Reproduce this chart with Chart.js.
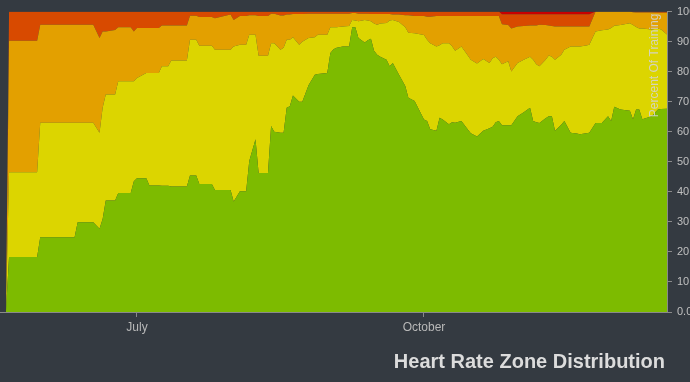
<!DOCTYPE html>
<html>
<head>
<meta charset="utf-8">
<script src="https://cdn.jsdelivr.net/npm/chart.js@4.4.1/dist/chart.umd.min.js"></script>
<style>
  html, body { margin: 0; padding: 0; background: #343a41; }
  #zones { display: block; }
</style>
</head>
<body>
<canvas id="zones" width="690" height="382"></canvas>
<script>
// one entry per sample, day of the activity window
var dates = [
  '2023-05-20','2023-05-21','2023-05-30','2023-05-31','2023-06-11','2023-06-12','2023-06-17','2023-06-19','2023-06-20','2023-06-21',
  '2023-06-24','2023-06-25','2023-06-29','2023-06-30','2023-07-01','2023-07-04','2023-07-05','2023-07-08','2023-07-09','2023-07-11',
  '2023-07-12','2023-07-17','2023-07-18','2023-07-20','2023-07-21','2023-07-25','2023-07-26','2023-07-31','2023-08-01','2023-08-03',
  '2023-08-05','2023-08-06','2023-08-08','2023-08-09','2023-08-12','2023-08-13','2023-08-14','2023-08-16','2023-08-17','2023-08-18',
  '2023-08-19','2023-08-20','2023-08-22','2023-08-23','2023-08-25','2023-08-27','2023-08-28','2023-08-31','2023-09-01','2023-09-02',
  '2023-09-03','2023-09-05','2023-09-07','2023-09-08','2023-09-09','2023-09-10','2023-09-12','2023-09-13','2023-09-14','2023-09-15',
  '2023-09-16','2023-09-17','2023-09-19','2023-09-20','2023-09-21','2023-09-23','2023-09-25','2023-09-26','2023-09-28','2023-10-01',
  '2023-10-02','2023-10-03','2023-10-05','2023-10-06','2023-10-07','2023-10-09','2023-10-10','2023-10-11','2023-10-13','2023-10-15',
  '2023-10-16','2023-10-18','2023-10-20','2023-10-22','2023-10-23','2023-10-24','2023-10-25','2023-10-26','2023-10-28','2023-10-29',
  '2023-10-31','2023-11-02','2023-11-04','2023-11-05','2023-11-06','2023-11-07','2023-11-09','2023-11-10','2023-11-11','2023-11-12',
  '2023-11-14','2023-11-15','2023-11-17','2023-11-19','2023-11-20','2023-11-22','2023-11-23','2023-11-25','2023-11-27','2023-11-29',
  '2023-11-30','2023-12-01','2023-12-03','2023-12-06','2023-12-07','2023-12-08','2023-12-09','2023-12-10','2023-12-13','2023-12-15',
  '2023-12-16','2023-12-18'
];

// percent of training time in each zone
var zone1 = [
  0, 18.3, 18.3, 24.9, 24.9, 29.9, 29.9, 27.7, 31, 37.1,
  37.1, 39.6, 39.6, 43.5, 44.5, 44.5, 42.1, 42.1, 42, 42,
  41.8, 41.8, 45.4, 45.4, 42.6, 42.6, 40.6, 40.6, 36.8, 40.2,
  40.2, 50.3, 57.5, 46.3, 46.3, 61.9, 60, 59.7, 59.7, 68,
  68.5, 72.1, 70, 70, 75.5, 79, 79.2, 79.6, 86.2, 87.5,
  88, 88.4, 88.4, 94.8, 94.8, 91.2, 89.7, 90.5, 91, 87,
  85.6, 85, 84, 81.8, 82.9, 79, 75.2, 71.3, 70.2, 64.1,
  63.6, 60.8, 60.3, 64.7, 64.1, 62.5, 63.2, 63, 63.6, 60.8,
  59.5, 58.4, 60.3, 61.2, 61.7, 63.2, 63.6, 62.2, 62.2, 62.2,
  65.2, 66.5, 68, 63.6, 63.2, 62.9, 64.5, 65.2, 65.2, 60.3,
  62.3, 63.6, 59.7, 59.4, 59.2, 59.5, 59.7, 62.9, 62.9, 65.2,
  63.6, 68.3, 67.4, 67, 64.2, 67.4, 67.4, 64.2, 65.2, 67.4,
  67.6, 67.7
];
var zone2 = [
  0, 28.2, 28.2, 38.1, 38.1, 33.1, 33.1, 32.0, 37, 35.3,
  35.3, 37.2, 37.2, 33.3, 33.4, 35.1, 37.5, 37.5, 39.8, 39.8,
  41.9, 41.9, 45.2, 45.2, 46.0, 46.0, 46.7, 46.7, 51.6, 48.8,
  48.8, 42.0, 34.8, 39.0, 39.0, 27.6, 29.5, 27.6, 28.3, 22.6,
  22.1, 19.4, 19, 20, 15.7, 12.5, 13.1, 12.7, 8.6, 7.3,
  6.8, 6.6, 6.8, 2.4, 2.2, 5.6, 7.5, 6.5, 5.8, 9,
  10, 11, 12.2, 15.2, 14.3, 17.5, 19.6, 21.7, 22.6, 28.1,
  27.0, 28.7, 28.1, 24.1, 25.4, 27.0, 25.3, 24, 24.8, 24.7,
  24.5, 24.3, 23.9, 21.7, 22.8, 21.8, 20.4, 20.3, 21.3, 17.9,
  17.7, 17.5, 17, 20.4, 19.3, 18.9, 19.5, 20.2, 19.8, 23.7,
  23.3, 23.7, 28.7, 29.0, 29.2, 29.2, 29.3, 30.5, 30.9, 28.8,
  30.9, 27.0, 28.1, 29.1, 31.3, 27.5, 27.0, 30.2, 28.8, 27.0,
  26.4, 24.6
];
var zone3 = [
  0, 43.8, 43.8, 32.6, 32.6, 32.6, 32.6, 31.5, 25.4, 21.0,
  21.5, 18.0, 18.0, 16.6, 16.6, 14.9, 14.9, 14.9, 13.6, 13.6,
  11.7, 11.7, 8.0, 8.0, 9.6, 9.6, 10.5, 11.7, 8.8, 9.5,
  9.5, 6.5, 6.5, 13.2, 13.2, 9.8, 9.8, 11.4, 10.7, 8.4,
  8.4, 7.7, 10.2, 9.2, 8.1, 7.8, 7.0, 7.0, 4.5, 4.5,
  4.5, 4.3, 4.1, 2.3, 2.5, 2.5, 2.1, 2.3, 2.4, 3.2,
  3.6, 3.2, 3.0, 2.2, 1.8, 2.5, 4.0, 5.8, 5.7, 6.3,
  7.7, 8.8, 10.1, 9.7, 9.0, 9.0, 10.0, 11.5, 10.1, 13.0,
  14.5, 15.8, 14.3, 15.6, 14.0, 13.5, 14.5, 13.3, 12.0, 14.3,
  12.1, 11.2, 10.4, 11.4, 12.9, 13.8, 11.5, 10.0, 10.2, 11.0,
  9.4, 7.7, 6.6, 6.6, 6.6, 6.3, 6.0, 6.6, 6.2, 6.0,
  5.5, 4.7, 4.5, 3.9, 4.3, 4.8, 5.3, 5.3, 5.7, 5.2,
  5.6, 7.3
];
var zone4 = [
  0, 9.7, 9.7, 4.4, 4.4, 4.4, 4.4, 8.8, 6.6, 6.6,
  6.1, 5.2, 5.2, 6.6, 5.5, 5.5, 5.5, 5.5, 4.6, 4.6,
  4.6, 4.6, 1.4, 1.4, 1.8, 1.8, 2.2, 1.0, 2.8, 1.5,
  1.5, 1.2, 1.2, 1.5, 1.5, 0.7, 0.7, 1.3, 1.3, 1.0,
  1.0, 0.8, 0.8, 0.8, 0.7, 0.7, 0.7, 0.7, 0.7, 0.7,
  0.7, 0.7, 0.7, 0.5, 0.5, 0.7, 0.7, 0.7, 0.8, 0.8,
  0.8, 0.8, 0.8, 0.8, 1.0, 1.0, 1.2, 1.2, 1.5, 1.5,
  1.7, 1.7, 1.5, 1.5, 1.5, 1.5, 1.5, 1.5, 1.5, 1.5,
  1.5, 1.5, 1.5, 1.5, 1.5, 1.5, 1.5, 3.3, 3.6, 4.7,
  4.1, 3.9, 3.7, 3.7, 3.7, 3.5, 3.6, 3.7, 3.9, 4.1,
  4.1, 4.1, 4.1, 4.1, 4.1, 4.1, 4.1, 0, 0, 0,
  0, 0, 0, 0, 0.2, 0.3, 0.3, 0.3, 0.3, 0.4,
  0.4, 0.4
];
var zone5 = [
  0, 0, 0, 0, 0, 0, 0, 0, 0, 0,
  0, 0, 0, 0, 0, 0, 0, 0, 0, 0,
  0, 0, 0, 0, 0, 0, 0, 0, 0, 0,
  0, 0, 0, 0, 0, 0, 0, 0, 0, 0,
  0, 0, 0, 0, 0, 0, 0, 0, 0, 0,
  0, 0, 0, 0, 0, 0, 0, 0, 0, 0,
  0, 0, 0, 0, 0, 0, 0, 0, 0, 0,
  0, 0, 0, 0, 0, 0, 0, 0, 0, 0,
  0, 0, 0, 0, 0, 0, 0, 0.9, 0.9, 0.9,
  0.9, 0.9, 0.9, 0.9, 0.9, 0.9, 0.9, 0.9, 0.9, 0.9,
  0.9, 0.9, 0.9, 0.9, 0.9, 0.9, 0.9, 0, 0, 0,
  0, 0, 0, 0, 0, 0, 0, 0, 0, 0,
  0, 0
];

var zoneNames = ['Zone 1', 'Zone 2', 'Zone 3', 'Zone 4', 'Zone 5'];
var zoneColors = ['#7dbb00', '#dcd500', '#e3a000', '#d84a00', '#c80000'];
var monthTicks = [
  { date: '2023-07-01', label: 'July' },
  { date: '2023-10-01', label: 'October' }
];
var yTicks = [0, 10, 20, 30, 40, 50, 60, 70, 80, 90, 100];
var startDate = '2023-05-20';
var chartTitle = 'Heart Rate Zone Distribution';
var axisTitle = 'Percent Of Training';
var fontFamily = '"Liberation Sans", Arial, sans-serif';

function dayOf(s) {
  var p = s.split('-');
  var base = startDate.split('-');
  return (Date.UTC(+p[0], p[1] - 1, +p[2]) - Date.UTC(+base[0], base[1] - 1, +base[2])) / 86400000;
}

var days = dates.map(dayOf);
var allZones = [zone1, zone2, zone3, zone4, zone5];

var datasets = allZones.map(function(vals, i) {
  return {
    label: zoneNames[i],
    data: vals.map(function(v, j) { return { x: days[j], y: v }; }),
    backgroundColor: zoneColors[i],
    borderWidth: 0,
    pointRadius: 0,
    tension: 0,
    fill: i === 0 ? 'origin' : '-1'
  };
});

var bgPlugin = {
  id: 'bg',
  beforeDraw: function(chart) {
    var c = chart.ctx;
    c.save();
    c.fillStyle = '#343a41';
    c.fillRect(0, 0, chart.width, chart.height);
    c.restore();
  }
};

// rotated axis title inside the plot, and the chart title bottom right
var textPlugin = {
  id: 'texts',
  afterDraw: function(chart) {
    var c = chart.ctx;
    var area = chart.chartArea;
    c.save();
    c.translate(area.right - 12, area.top + 2);
    c.rotate(-Math.PI / 2);
    c.font = '12px ' + fontFamily;
    c.fillStyle = 'rgba(212,212,212,0.88)';
    c.textAlign = 'right';
    c.textBaseline = 'middle';
    c.fillText(axisTitle, 0, 0);
    c.restore();

    c.save();
    c.font = 'bold 20px ' + fontFamily;
    c.fillStyle = '#dcdcdc';
    c.textAlign = 'right';
    c.textBaseline = 'middle';
    c.fillText(chartTitle, area.right - 2, 362);
    c.restore();
  }
};

var ctx = document.getElementById('zones');
new Chart(ctx, {
  type: 'line',
  data: { datasets: datasets },
  plugins: [bgPlugin, textPlugin],
  options: {
    responsive: false,
    animation: false,
    devicePixelRatio: 1,
    layout: { padding: { top: 10, right: 0, bottom: 32, left: 0 } },
    plugins: {
      legend: { display: false },
      tooltip: { enabled: false },
      title: { display: false }
    },
    scales: {
      x: {
        type: 'linear',
        min: -1.9,
        max: 211.9,
        grid: { drawOnChartArea: false, tickLength: 5, color: '#8a8a8a' },
        border: { color: '#8a8a8a' },
        ticks: {
          color: '#b8b8b8',
          padding: 3,
          maxRotation: 0,
          font: { family: fontFamily, size: 12 },
          callback: function(v) {
            for (var i = 0; i < monthTicks.length; i++) {
              if (dayOf(monthTicks[i].date) === v) return monthTicks[i].label;
            }
            return '';
          }
        },
        afterBuildTicks: function(scale) {
          scale.ticks = monthTicks.map(function(m) { return { value: dayOf(m.date) }; });
        },
        afterFit: function(scale) { scale.height = 38; }
      },
      y: {
        position: 'right',
        stacked: true,
        min: 0,
        max: 100,
        grid: { drawOnChartArea: false, tickLength: 5, color: '#8a8a8a' },
        border: { color: '#8a8a8a' },
        ticks: {
          color: '#c0c0c0',
          padding: 5,
          font: { family: fontFamily, size: 11 },
          callback: function(v) { return v === 0 ? '0.0' : String(v); }
        },
        afterBuildTicks: function(scale) {
          scale.ticks = yTicks.map(function(v) { return { value: v }; });
        },
        afterFit: function(scale) { scale.width = 23; }
      }
    }
  }
});
</script>
</body>
</html>
